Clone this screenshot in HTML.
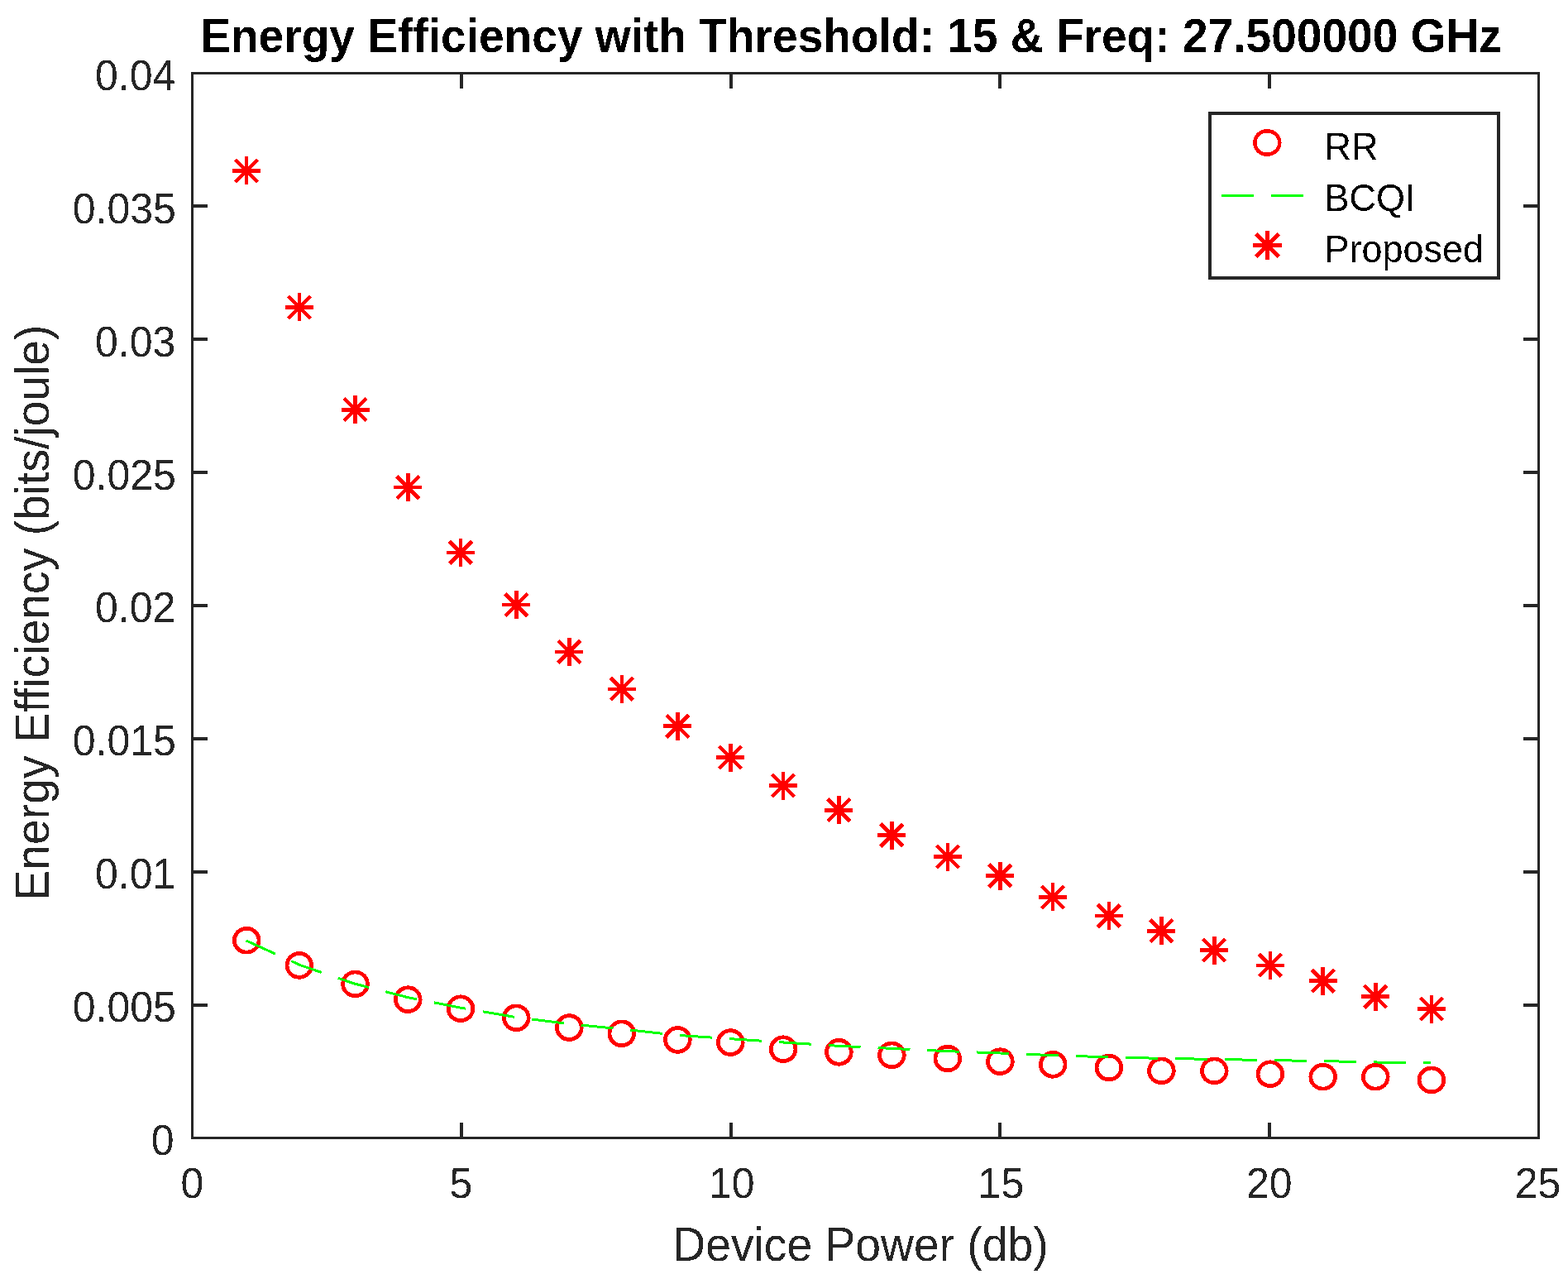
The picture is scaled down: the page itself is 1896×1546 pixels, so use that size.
<!DOCTYPE html>
<html><head><meta charset="utf-8"><title>Energy Efficiency</title><style>html,body{margin:0;padding:0;background:#fff;overflow:hidden}svg{display:block}</style></head><body>
<svg width="1896" height="1546" viewBox="0 0 1896 1546" shape-rendering="crispEdges">
<defs><filter id="crisp" color-interpolation-filters="sRGB"><feComponentTransfer><feFuncA type="discrete" tableValues="0 1"/></feComponentTransfer></filter></defs>
<rect width="1896" height="1546" fill="#fff"/>
<g fill="none" stroke="#ff0000" stroke-width="4.8" shape-rendering="crispEdges"><ellipse cx="298.20" cy="1136.70" rx="14.85" ry="14.4"/><ellipse cx="361.90" cy="1166.90" rx="14.85" ry="14.4"/><ellipse cx="429.50" cy="1189.40" rx="14.85" ry="14.4"/><ellipse cx="493.30" cy="1208.20" rx="14.85" ry="14.4"/><ellipse cx="557.00" cy="1219.20" rx="14.85" ry="14.4"/><ellipse cx="624.30" cy="1230.30" rx="14.85" ry="14.4"/><ellipse cx="688.30" cy="1242.10" rx="14.85" ry="14.4"/><ellipse cx="751.80" cy="1249.30" rx="14.85" ry="14.4"/><ellipse cx="819.40" cy="1256.90" rx="14.85" ry="14.4"/><ellipse cx="883.30" cy="1260.10" rx="14.85" ry="14.4"/><ellipse cx="947.10" cy="1268.20" rx="14.85" ry="14.4"/><ellipse cx="1014.40" cy="1271.80" rx="14.85" ry="14.4"/><ellipse cx="1078.40" cy="1275.40" rx="14.85" ry="14.4"/><ellipse cx="1145.80" cy="1279.50" rx="14.85" ry="14.4"/><ellipse cx="1209.40" cy="1283.20" rx="14.85" ry="14.4"/><ellipse cx="1273.20" cy="1286.80" rx="14.85" ry="14.4"/><ellipse cx="1340.90" cy="1290.50" rx="14.85" ry="14.4"/><ellipse cx="1404.40" cy="1294.40" rx="14.85" ry="14.4"/><ellipse cx="1468.30" cy="1294.40" rx="14.85" ry="14.4"/><ellipse cx="1535.90" cy="1298.20" rx="14.85" ry="14.4"/><ellipse cx="1599.70" cy="1301.70" rx="14.85" ry="14.4"/><ellipse cx="1663.30" cy="1301.70" rx="14.85" ry="14.4"/><ellipse cx="1730.90" cy="1305.40" rx="14.85" ry="14.4"/></g>
<polyline points="297.62,1137.00 362.74,1166.50 427.86,1188.80 492.98,1205.60 558.10,1218.40 623.22,1229.50 688.34,1237.70 753.46,1244.10 818.58,1251.30 883.70,1255.70 948.82,1260.10 1013.94,1264.30 1079.06,1267.40 1144.18,1270.60 1209.30,1273.00 1274.42,1275.70 1339.54,1277.80 1404.66,1279.40 1469.78,1280.40 1534.90,1281.60 1600.02,1282.60 1665.14,1284.00 1730.26,1284.90" fill="none" stroke="#00ff00" stroke-width="3" stroke-dasharray="39 21" stroke-linejoin="round" shape-rendering="crispEdges"/>
<path d="M281.20 206.40H315.20M298.20 189.40V223.40M284.70 192.90L311.70 219.90M284.70 219.90L311.70 192.90M344.90 371.45H378.90M361.90 354.45V388.45M348.40 357.95L375.40 384.95M348.40 384.95L375.40 357.95M412.50 495.30H446.50M429.50 478.30V512.30M416.00 481.80L443.00 508.80M416.00 508.80L443.00 481.80M476.30 589.20H510.30M493.30 572.20V606.20M479.80 575.70L506.80 602.70M479.80 602.70L506.80 575.70M540.00 668.00H574.00M557.00 651.00V685.00M543.50 654.50L570.50 681.50M543.50 681.50L570.50 654.50M607.30 731.20H641.30M624.30 714.20V748.20M610.80 717.70L637.80 744.70M610.80 744.70L637.80 717.70M671.30 787.80H705.30M688.30 770.80V804.80M674.80 774.30L701.80 801.30M674.80 801.30L701.80 774.30M734.80 832.80H768.80M751.80 815.80V849.80M738.30 819.30L765.30 846.30M738.30 846.30L765.30 819.30M802.40 877.70H836.40M819.40 860.70V894.70M805.90 864.20L832.90 891.20M805.90 891.20L832.90 864.20M866.30 915.50H900.30M883.30 898.50V932.50M869.80 902.00L896.80 929.00M869.80 929.00L896.80 902.00M930.10 949.50H964.10M947.10 932.50V966.50M933.60 936.00L960.60 963.00M933.60 963.00L960.60 936.00M997.40 979.40H1031.40M1014.40 962.40V996.40M1000.90 965.90L1027.90 992.90M1000.90 992.90L1027.90 965.90M1061.40 1009.50H1095.40M1078.40 992.50V1026.50M1064.90 996.00L1091.90 1023.00M1064.90 1023.00L1091.90 996.00M1128.80 1035.50H1162.80M1145.80 1018.50V1052.50M1132.30 1022.00L1159.30 1049.00M1132.30 1049.00L1159.30 1022.00M1192.40 1058.50H1226.40M1209.40 1041.50V1075.50M1195.90 1045.00L1222.90 1072.00M1195.90 1072.00L1222.90 1045.00M1256.20 1084.40H1290.20M1273.20 1067.40V1101.40M1259.70 1070.90L1286.70 1097.90M1259.70 1097.90L1286.70 1070.90M1323.90 1107.00H1357.90M1340.90 1090.00V1124.00M1327.40 1093.50L1354.40 1120.50M1327.40 1120.50L1354.40 1093.50M1387.40 1125.40H1421.40M1404.40 1108.40V1142.40M1390.90 1111.90L1417.90 1138.90M1390.90 1138.90L1417.90 1111.90M1451.30 1148.50H1485.30M1468.30 1131.50V1165.50M1454.80 1135.00L1481.80 1162.00M1454.80 1162.00L1481.80 1135.00M1518.90 1166.80H1552.90M1535.90 1149.80V1183.80M1522.40 1153.30L1549.40 1180.30M1522.40 1180.30L1549.40 1153.30M1582.70 1185.60H1616.70M1599.70 1168.60V1202.60M1586.20 1172.10L1613.20 1199.10M1586.20 1199.10L1613.20 1172.10M1646.30 1204.60H1680.30M1663.30 1187.60V1221.60M1649.80 1191.10L1676.80 1218.10M1649.80 1218.10L1676.80 1191.10M1713.90 1219.50H1747.90M1730.90 1202.50V1236.50M1717.40 1206.00L1744.40 1233.00M1717.40 1233.00L1744.40 1206.00" fill="none" stroke="#ff0000" stroke-width="4.5" shape-rendering="crispEdges"/>
<rect x="232.5" y="88.5" width="1628.0" height="1287.0" fill="none" stroke="#262626" stroke-width="3"/>
<path d="M558.10 1375.5V1357.0M558.10 88.5V107.0M883.70 1375.5V1357.0M883.70 88.5V107.0M1209.30 1375.5V1357.0M1209.30 88.5V107.0M1534.90 1375.5V1357.0M1534.90 88.5V107.0M232.5 1214.62H251.0M1860.5 1214.62H1842.0M232.5 1053.75H251.0M1860.5 1053.75H1842.0M232.5 892.88H251.0M1860.5 892.88H1842.0M232.5 732.00H251.0M1860.5 732.00H1842.0M232.5 571.12H251.0M1860.5 571.12H1842.0M232.5 410.25H251.0M1860.5 410.25H1842.0M232.5 249.38H251.0M1860.5 249.38H1842.0" stroke="#262626" stroke-width="4" fill="none"/>
<g font-family="'Liberation Sans', Arial, Helvetica, sans-serif" font-size="50" fill="#262626" filter="url(#crisp)"><text transform="translate(210.5 1395.90) scale(1 1.04)" text-anchor="end">0</text><text transform="translate(212.8 1235.03) scale(1 1.04)" text-anchor="end">0.005</text><text transform="translate(212.3 1074.15) scale(1 1.04)" text-anchor="end">0.01</text><text transform="translate(212.8 913.27) scale(1 1.04)" text-anchor="end">0.015</text><text transform="translate(212.3 752.40) scale(1 1.04)" text-anchor="end">0.02</text><text transform="translate(212.8 591.52) scale(1 1.04)" text-anchor="end">0.025</text><text transform="translate(212.3 430.65) scale(1 1.04)" text-anchor="end">0.03</text><text transform="translate(212.8 269.77) scale(1 1.04)" text-anchor="end">0.035</text><text transform="translate(212.3 108.90) scale(1 1.04)" text-anchor="end">0.04</text><text transform="translate(232.30 1447.5) scale(1 1.04)" text-anchor="middle">0</text><text transform="translate(557.30 1447.5) scale(1 1.04)" text-anchor="middle">5</text><text transform="translate(884.70 1447.5) scale(1 1.04)" text-anchor="middle">10</text><text transform="translate(1210.40 1447.5) scale(1 1.04)" text-anchor="middle">15</text><text transform="translate(1534.80 1447.5) scale(1 1.04)" text-anchor="middle">20</text><text transform="translate(1859.60 1447.5) scale(1 1.04)" text-anchor="middle">25</text></g>
<text transform="translate(1040.5 1523.9) scale(1 1.04)" text-anchor="middle" font-family="'Liberation Sans', Arial, Helvetica, sans-serif" font-size="55.25" fill="#262626" filter="url(#crisp)">Device Power (db)</text>
<text transform="translate(58.9 740.5) rotate(-90) scale(1 1.04)" text-anchor="middle" font-family="'Liberation Sans', Arial, Helvetica, sans-serif" font-size="55.25" fill="#262626" filter="url(#crisp)">Energy Efficiency (bits/joule)</text>
<text transform="translate(1029.0 63) scale(1 1.05)" text-anchor="middle" font-family="'Liberation Sans', Arial, Helvetica, sans-serif" font-size="55.1" font-weight="bold" fill="#000" filter="url(#crisp)">Energy Efficiency with Threshold: 15 &amp; Freq: 27.500000 GHz</text>
<rect x="1463" y="137" width="349" height="199" fill="#fff" stroke="#262626" stroke-width="4"/>
<ellipse cx="1532.3" cy="172.5" rx="15.0" ry="14.2" fill="none" stroke="#ff0000" stroke-width="4.6"/>
<path d="M1477 236.5H1576" stroke="#00ff00" stroke-width="3" stroke-dasharray="39 21" fill="none"/>
<path d="M1515.00 296.30H1549.80M1532.40 278.90V313.70M1518.60 282.50L1546.20 310.10M1518.60 310.10L1546.20 282.50" stroke="#ff0000" stroke-width="5" fill="none"/>
<g font-family="'Liberation Sans', Arial, Helvetica, sans-serif" font-size="45" fill="#000" filter="url(#crisp)"><text transform="translate(1601.5 193.1) scale(1 1.04)">RR</text><text transform="translate(1601.5 255.3) scale(1 1.04)">BCQI</text><text transform="translate(1601.5 317.4) scale(1 1.04)">Proposed</text></g>
</svg>
</body></html>
